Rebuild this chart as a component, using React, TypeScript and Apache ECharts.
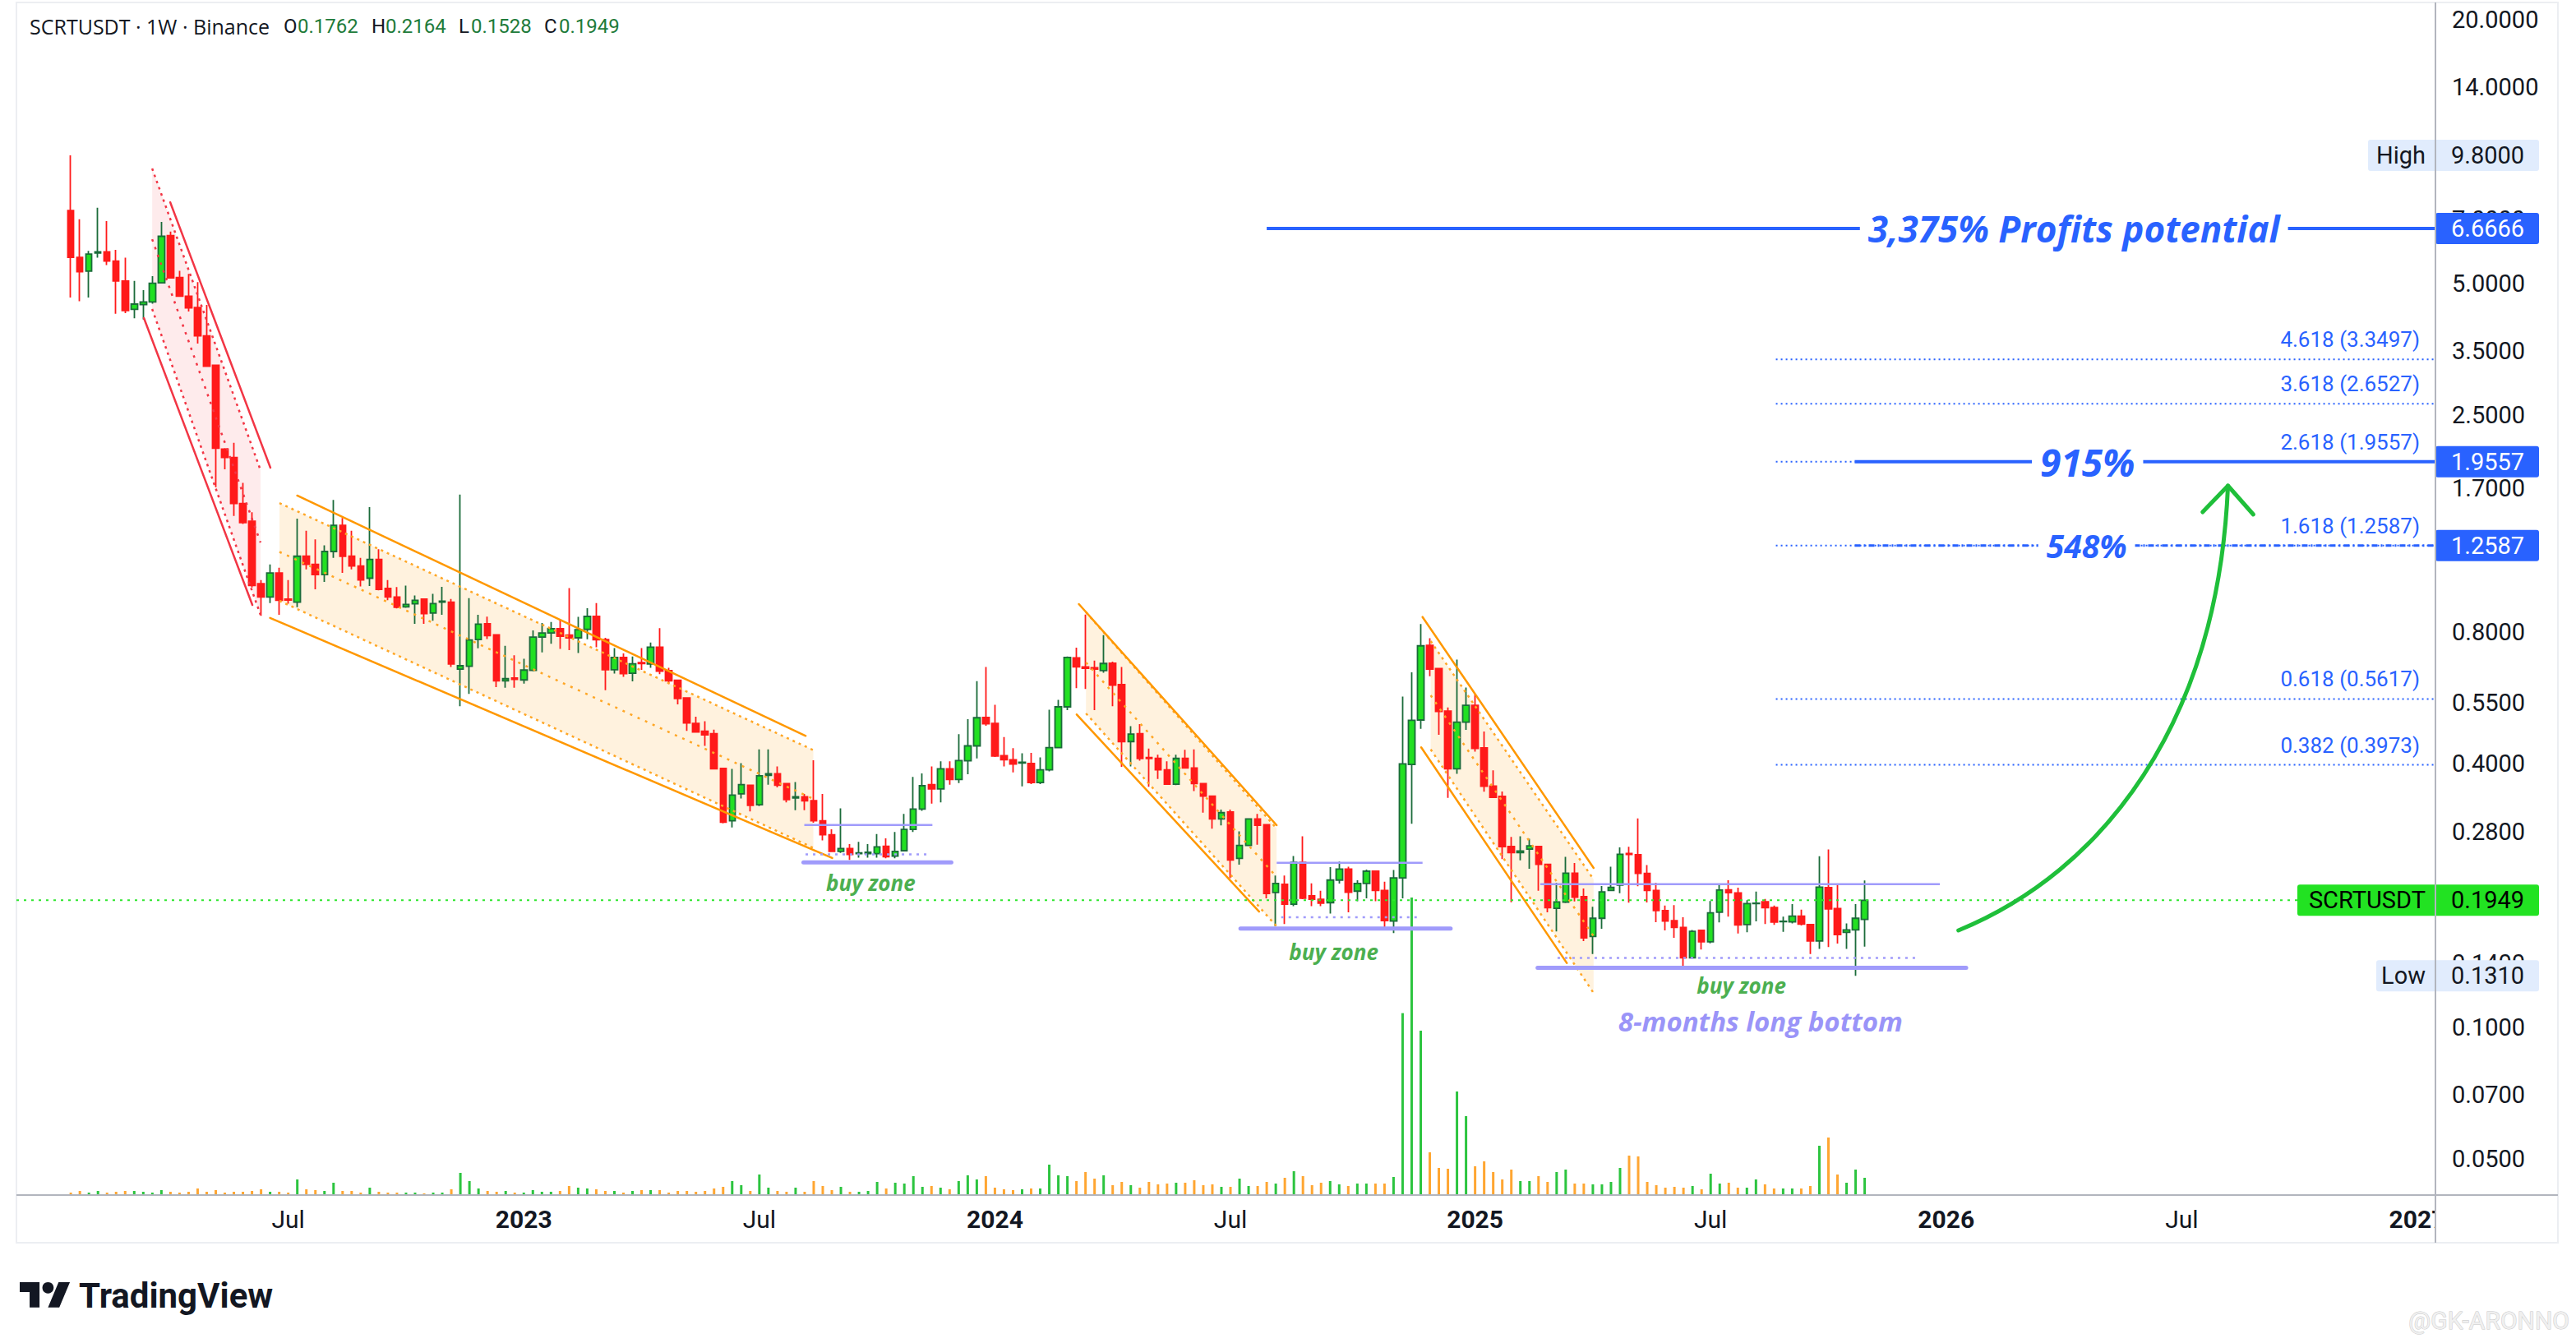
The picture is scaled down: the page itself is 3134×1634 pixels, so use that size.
import React, { useEffect, useRef } from "react";
import * as echarts from "echarts";

// ---------------- data ----------------
const FIRST_WEEK_UTC = Date.UTC(2022, 0, 17); // first weekly bar (Mon)
const AXIS_FIRST = -6; // week index at the left edge of the plot
const AXIS_LAST = 261; // week index at the price scale

// weekly bars SCRTUSDT (Binance): [open, high, low, close]
const candles: number[][] = [
  [7.33, 9.8, 4.64, 5.73], [5.73, 7.0, 4.55, 5.31], [5.33, 5.93, 4.64, 5.83], [5.86, 7.44, 5.72, 5.9],
  [5.9, 6.93, 5.5, 5.62], [5.62, 5.96, 4.26, 5.06], [5.06, 5.72, 4.27, 4.33], [4.36, 5.06, 4.16, 4.48],
  [4.47, 4.82, 4.13, 4.53], [4.53, 5.19, 4.49, 5.0], [5.01, 6.9, 5.0, 6.4], [6.42, 6.56, 5.12, 5.14],
  [5.15, 5.34, 4.66, 4.67], [4.67, 5.25, 4.31, 4.39], [4.4, 5.03, 3.64, 3.79], [3.79, 4.46, 3.22, 3.23],
  [3.25, 3.26, 1.71, 2.1], [2.09, 2.1, 1.88, 2.0], [2.0, 2.16, 1.47, 1.57], [1.57, 1.75, 1.41, 1.42],
  [1.43, 1.5, 1.01, 1.02], [1.03, 1.05, 0.87, 0.96], [0.96, 1.14, 0.93, 1.09], [1.09, 1.12, 0.875, 0.944],
  [0.95, 1.05, 0.927, 0.945], [0.935, 1.45, 0.91, 1.19], [1.19, 1.36, 1.11, 1.14], [1.14, 1.3, 1.0, 1.08],
  [1.08, 1.26, 1.04, 1.22], [1.22, 1.6, 1.18, 1.4], [1.4, 1.455, 1.09, 1.19], [1.19, 1.36, 1.11, 1.13],
  [1.13, 1.18, 1.015, 1.05], [1.06, 1.54, 1.017, 1.17], [1.17, 1.235, 0.995, 1.0], [1.005, 1.05, 0.944, 0.96],
  [0.96, 1.012, 0.904, 0.91], [0.912, 1.02, 0.907, 0.924], [0.927, 0.968, 0.834, 0.944], [0.95, 0.95, 0.834, 0.88],
  [0.883, 0.977, 0.848, 0.928], [0.935, 1.013, 0.875, 0.94], [0.935, 0.95, 0.665, 0.675], [0.657, 1.645, 0.541, 0.669],
  [0.667, 0.955, 0.577, 0.766], [0.768, 0.875, 0.733, 0.833], [0.834, 0.866, 0.77, 0.784], [0.787, 0.787, 0.598, 0.618],
  [0.618, 0.743, 0.596, 0.625], [0.627, 0.707, 0.596, 0.623], [0.621, 0.694, 0.609, 0.654], [0.653, 0.806, 0.65, 0.778],
  [0.778, 0.838, 0.718, 0.795], [0.795, 0.842, 0.751, 0.813], [0.813, 0.853, 0.731, 0.781], [0.786, 1.006, 0.726, 0.775],
  [0.775, 0.865, 0.715, 0.809], [0.81, 0.905, 0.769, 0.867], [0.867, 0.93, 0.737, 0.767], [0.768, 0.775, 0.588, 0.655],
  [0.655, 0.734, 0.642, 0.699], [0.699, 0.714, 0.631, 0.642], [0.643, 0.702, 0.616, 0.676], [0.68, 0.734, 0.655, 0.677],
  [0.675, 0.756, 0.662, 0.738], [0.738, 0.815, 0.64, 0.65], [0.652, 0.662, 0.608, 0.618], [0.62, 0.621, 0.546, 0.563],
  [0.565, 0.565, 0.475, 0.495], [0.494, 0.512, 0.471, 0.472], [0.474, 0.5, 0.439, 0.465], [0.468, 0.478, 0.388, 0.389],
  [0.39, 0.39, 0.292, 0.294], [0.296, 0.389, 0.286, 0.339], [0.341, 0.401, 0.333, 0.358], [0.357, 0.358, 0.311, 0.321],
  [0.322, 0.431, 0.32, 0.375], [0.376, 0.431, 0.358, 0.379], [0.379, 0.394, 0.353, 0.357], [0.36, 0.36, 0.326, 0.331],
  [0.334, 0.363, 0.313, 0.336], [0.336, 0.341, 0.313, 0.329], [0.329, 0.407, 0.293, 0.296], [0.296, 0.341, 0.267, 0.275],
  [0.275, 0.283, 0.251, 0.252], [0.252, 0.316, 0.25, 0.256], [0.256, 0.262, 0.241, 0.248], [0.249, 0.265, 0.244, 0.25],
  [0.249, 0.262, 0.244, 0.251], [0.249, 0.276, 0.244, 0.258], [0.259, 0.27, 0.243, 0.245], [0.246, 0.279, 0.243, 0.252],
  [0.253, 0.307, 0.252, 0.283], [0.283, 0.373, 0.279, 0.315], [0.315, 0.38, 0.312, 0.356], [0.358, 0.394, 0.324, 0.35],
  [0.35, 0.405, 0.326, 0.389], [0.389, 0.405, 0.358, 0.368], [0.368, 0.467, 0.361, 0.4065], [0.406, 0.505, 0.378, 0.439],
  [0.439, 0.617, 0.411, 0.509], [0.51, 0.665, 0.488, 0.493], [0.494, 0.545, 0.414, 0.416], [0.417, 0.46, 0.394, 0.408],
  [0.408, 0.434, 0.382, 0.399], [0.401, 0.422, 0.355, 0.403], [0.4, 0.423, 0.359, 0.362], [0.362, 0.413, 0.359, 0.387],
  [0.387, 0.531, 0.384, 0.435], [0.435, 0.559, 0.434, 0.539], [0.539, 0.702, 0.53, 0.699], [0.697, 0.736, 0.595, 0.665],
  [0.665, 0.876, 0.592, 0.66], [0.662, 0.687, 0.53, 0.657], [0.652, 0.786, 0.645, 0.677], [0.678, 0.684, 0.541, 0.604],
  [0.606, 0.665, 0.393, 0.449], [0.449, 0.487, 0.394, 0.467], [0.468, 0.492, 0.406, 0.411], [0.413, 0.433, 0.354, 0.411],
  [0.411, 0.419, 0.369, 0.387], [0.387, 0.405, 0.358, 0.359], [0.359, 0.419, 0.357, 0.411], [0.411, 0.43, 0.39, 0.391],
  [0.391, 0.431, 0.346, 0.36], [0.36, 0.36, 0.309, 0.337], [0.337, 0.338, 0.284, 0.299], [0.299, 0.314, 0.289, 0.309],
  [0.31, 0.314, 0.219, 0.241], [0.243, 0.28, 0.235, 0.26], [0.26, 0.3, 0.259, 0.299], [0.299, 0.307, 0.261, 0.289],
  [0.29, 0.29, 0.197, 0.202], [0.203, 0.222, 0.17, 0.213], [0.212, 0.222, 0.172, 0.191], [0.191, 0.246, 0.189, 0.238],
  [0.238, 0.273, 0.196, 0.197], [0.1995, 0.213, 0.189, 0.196], [0.196, 0.205, 0.189, 0.192], [0.1925, 0.232, 0.1817, 0.2168],
  [0.2168, 0.239, 0.2129, 0.2297], [0.2297, 0.2325, 0.183, 0.2034], [0.2045, 0.2165, 0.194, 0.2129], [0.2129, 0.229, 0.197, 0.2271],
  [0.2271, 0.2271, 0.194, 0.2052], [0.2052, 0.215, 0.169, 0.1752], [0.1747, 0.2285, 0.164, 0.2192], [0.2193, 0.569, 0.197, 0.3995],
  [0.398, 0.646, 0.2915, 0.502], [0.503, 0.833, 0.48, 0.743], [0.745, 0.773, 0.633, 0.657], [0.659, 0.659, 0.4655, 0.526],
  [0.527, 0.537, 0.334, 0.389], [0.389, 0.691, 0.379, 0.4975], [0.4975, 0.5965, 0.4775, 0.5435], [0.5435, 0.575, 0.426, 0.433],
  [0.4343, 0.4735, 0.345, 0.355], [0.3555, 0.386, 0.334, 0.335], [0.3365, 0.3455, 0.242, 0.2585], [0.2586, 0.272, 0.193, 0.2505],
  [0.2505, 0.273, 0.2405, 0.2525], [0.255, 0.2695, 0.23, 0.2596], [0.2586, 0.2595, 0.205, 0.2355], [0.2355, 0.2355, 0.183, 0.1875],
  [0.1868, 0.2138, 0.1655, 0.1932], [0.193, 0.245, 0.192, 0.2248], [0.2248, 0.2371, 0.1937, 0.198], [0.1986, 0.2075, 0.1573, 0.16],
  [0.1612, 0.1884, 0.147, 0.1773], [0.1773, 0.21, 0.1678, 0.2038], [0.2052, 0.2325, 0.2045, 0.2085], [0.2112, 0.2575, 0.2023, 0.2483],
  [0.2494, 0.2582, 0.1925, 0.248], [0.2476, 0.2997, 0.2098, 0.2245], [0.2245, 0.2347, 0.1928, 0.2052], [0.2052, 0.2138, 0.1738, 0.1846],
  [0.1846, 0.1897, 0.1664, 0.1747], [0.1752, 0.19, 0.16, 0.169], [0.169, 0.1782, 0.138, 0.144], [0.1441, 0.1667, 0.1435, 0.1655],
  [0.1664, 0.1667, 0.1505, 0.1567], [0.1567, 0.1942, 0.1555, 0.1825], [0.183, 0.2122, 0.1735, 0.2057], [0.206, 0.2165, 0.1788, 0.2028],
  [0.2026, 0.2083, 0.1637, 0.1712], [0.1715, 0.1949, 0.1647, 0.1915], [0.1915, 0.204, 0.1744, 0.192], [0.1935, 0.1963, 0.172, 0.1875],
  [0.1876, 0.1897, 0.1712, 0.1738], [0.1742, 0.1788, 0.1652, 0.1745], [0.174, 0.1911, 0.1725, 0.1793], [0.1793, 0.1856, 0.1708, 0.172],
  [0.1715, 0.1717, 0.147, 0.1573], [0.1573, 0.2457, 0.1509, 0.2088], [0.2083, 0.2547, 0.1525, 0.1862], [0.1866, 0.2117, 0.1552, 0.1627],
  [0.1647, 0.1725, 0.1509, 0.1668], [0.1668, 0.1911, 0.131, 0.1773], [0.1762, 0.2164, 0.1528, 0.1949],
];

// weekly volume (relative units)
const volumes: number[] = [
  9, 15, 9, 15, 9, 12, 15, 15, 12, 9, 18, 12, 9, 12, 24, 12, 18, 9, 12, 12,
  15, 21, 12, 12, 9, 57, 21, 18, 15, 45, 15, 15, 9, 27, 12, 9, 9, 9, 9, 6,
  9, 9, 21, 81, 51, 24, 15, 12, 15, 9, 9, 18, 12, 12, 15, 33, 27, 24, 21, 15,
  15, 9, 15, 18, 18, 18, 9, 15, 15, 12, 15, 24, 30, 51, 36, 15, 75, 27, 15, 12,
  27, 12, 51, 33, 18, 30, 12, 12, 15, 48, 24, 45, 42, 69, 30, 33, 27, 21, 51, 72,
  57, 69, 27, 21, 18, 21, 24, 24, 111, 72, 69, 51, 84, 60, 72, 36, 48, 36, 27, 48,
  39, 42, 45, 45, 54, 36, 39, 30, 30, 60, 33, 33, 48, 42, 63, 87, 69, 36, 45, 51,
  39, 33, 42, 42, 42, 42, 66, 664, 1086, 600, 156, 99, 96, 378, 288, 105, 123, 84, 57, 93,
  51, 51, 69, 48, 84, 93, 42, 42, 39, 39, 48, 99, 144, 141, 48, 36, 27, 30, 27, 33,
  21, 78, 42, 45, 27, 27, 57, 39, 24, 24, 24, 24, 33, 180, 210, 75, 45, 93, 63,
];

// price scale (logarithmic)
const priceTicks = [20, 14, 7, 5, 3.5, 2.5, 1.7, 0.8, 0.55, 0.4, 0.28, 0.14, 0.1, 0.07, 0.05];
const PRICE_TOP = 21.79;
const PRICE_BOTTOM = 0.04137;
const VOLUME_MAX = 4350;

// drawings, anchored at [week index, price]
const channels = [
  { tone: "red", top: [[8.98, 9.14], [20.94, 1.871]], bottom: [[8.98, 4.365], [20.94, 0.8746]], mid: [[8.98, 6.3], [20.94, 1.279]], upper: [[10.97, 7.655], [22.03, 1.896]], lower: [[8.07, 4.163], [20.04, 0.921]] },
  { tone: "orange", top: [[23.03, 1.574], [81.96, 0.4293]], bottom: [[23.03, 0.9413], [81.96, 0.2567]], mid: [[23.03, 1.2173], [81.96, 0.3322]], upper: [[24.99, 1.637], [81.11, 0.4628]], lower: [[22.0, 0.8604], [84.04, 0.2434]] },
  { tone: "orange", top: [[112.05, 0.886], [133.09, 0.2843]], bottom: [[112.05, 0.5207], [133.09, 0.17]], mid: [[112.05, 0.6807], [133.09, 0.2204]], upper: [[111.27, 0.9251], [133.09, 0.2893]], lower: [[111.03, 0.5178], [131.16, 0.1836]] },
  { tone: "orange", top: [[150.1, 0.7616], [168.08, 0.2175]], bottom: [[150.1, 0.4311], [168.08, 0.1197]], mid: [[150.1, 0.5727], [168.08, 0.1614]], upper: [[149.2, 0.8645], [168.08, 0.2311]], lower: [[149.05, 0.4356], [165.12, 0.1402]] },
];

// buy zones: [fromWeek, toWeek, price]
const buyZones = [
  { upper: [80.96, 95.1, 0.2897], lower: [80.87, 97.19, 0.2379], dotted: [81.1, 94.8, 0.2482], label: [88.3, 0.2137] },
  { upper: [133.1, 149.2, 0.2375], lower: [129.1, 152.3, 0.168], dotted: [133.6, 148.8, 0.1783], label: [139.4, 0.1487] },
  { upper: [162.2, 206.3, 0.2122], lower: [161.9, 209.2, 0.1366], dotted: [164.1, 204.1, 0.1439], label: [184.4, 0.1245] },
];
const bottomNote = { text: "8-months long bottom", at: [186.5, 0.103] };

const FIB_START = 188.2;
const fibLevels = [
  { ratio: "4.618", price: 3.3497 },
  { ratio: "3.618", price: 2.6527 },
  { ratio: "2.618", price: 1.9557 },
  { ratio: "1.618", price: 1.2587 },
  { ratio: "0.618", price: 0.5617 },
  { ratio: "0.382", price: 0.3973 },
];

const targets = [
  { price: 6.6666, start: 132.0, text: "3,375% Profits potential", at: 221.1, size: 44, dash: null as number[] | null },
  { price: 1.9557, start: 196.9, text: "915%", at: 222.6, size: 46, dash: null as number[] | null },
  { price: 1.2587, start: 196.9, text: "548%", at: 222.5, size: 39, dash: [7, 4, 2, 4] },
];

// green arrow: bezier [start, cp1, cp2, tip] and head arms
const arrowCurve = [[208.35, 0.1664], [224.3, 0.2271], [237.0, 0.494], [238.1, 1.724]];
const arrowArms = [[235.3, 1.501], [240.9, 1.482]];

// ---------------- styling ----------------
const TV_BLUE = "#2962ff";
const UP_FILL = "#22e022";
const UP_LINE = "#1b6b3a";
const DOWN = "#ff1a1a";
const VOL_UP = "#2cc43f";
const VOL_DOWN = "#ffa632";
const ZONE = "#a09bfb";
const TEXT = "#131722";
const FONT = "Roboto, 'Noto Sans', sans-serif";
const TITLE_FONT = "'Open Sans', 'Noto Sans', sans-serif";
const DRAW_FONT = "'Open Sans', 'Noto Sans', sans-serif";

const TVLogoShape = echarts.graphic.extendPath("M14 22H7V11H0V4h14v18zM28 22h-8l7.5-18h8L28 22z", {});
echarts.graphic.registerShape("tvlogo", TVLogoShape);

const lg = (p: number) => Math.log10(p);

function buildOption() {
  const cats: string[] = [];
  for (let k = AXIS_FIRST; k <= AXIS_LAST; k++) {
    cats.push(new Date(FIRST_WEEK_UTC + k * 7 * 86400000).toISOString().slice(0, 10));
  }
  // time-axis labels: first weekly bar of January (year) and of July, from the first bar on
  const labelIdx = new Set<number>();
  cats.forEach((v, k) => {
    const m = v.slice(5, 7);
    if (k + AXIS_FIRST >= 0 && +v.slice(8, 10) <= 7 && (m === "01" || m === "07")) labelIdx.add(k);
  });

  const candleData = cats.map((_, k) => {
    const c = candles[k + AXIS_FIRST];
    return c ? [lg(c[0]), lg(c[3]), lg(c[2]), lg(c[1])] : ["-", "-", "-", "-"];
  });
  const volumeData = cats.map((_, k) => {
    const i = k + AXIS_FIRST;
    if (i < 0 || i >= volumes.length) return "-";
    const up = candles[i][3] >= candles[i][0];
    return { value: volumes[i], itemStyle: { color: up ? VOL_UP : VOL_DOWN } };
  });

  const last = candles[candles.length - 1];
  const highAll = Math.max(...candles.map((c) => c[1]));
  const lowAll = Math.min(...candles.map((c) => c[2]));

  const txt = (x: number, y: number, text: string, o: any) => ({
    type: "text",
    x,
    y,
    style: {
      text,
      fill: o.fill,
      fontSize: o.size,
      fontFamily: o.family || FONT,
      fontWeight: o.weight || "normal",
      fontStyle: o.italic ? "italic" : "normal",
      align: o.align || "center",
      textAlign: o.align || "center",
      verticalAlign: "middle",
      textVerticalAlign: "middle",
      backgroundColor: o.bg,
      padding: o.pad,
    },
  });

  const renderBack = (params: any, api: any) => {
    if (params.dataIndex !== 0) return null;
    const pt = (a: number[]) => api.coord([a[0], lg(a[1])]);
    const kids: any[] = [];
    channels.forEach((ch) => {
      kids.push({
        type: "polygon",
        shape: { points: [pt(ch.top[0]), pt(ch.top[1]), pt(ch.bottom[1]), pt(ch.bottom[0])] },
        style: { fill: ch.tone === "red" ? "rgba(242,54,69,0.10)" : "rgba(255,152,0,0.13)" },
      });
    });
    return { type: "group", children: kids };
  };

  const renderFront = (params: any, api: any) => {
    if (params.dataIndex !== 0) return null;
    const pt = (a: number[]) => api.coord([a[0], lg(a[1])]);
    const rightX = api.coord([AXIS_LAST, 0])[0];
    const leftX = api.coord([AXIS_FIRST, 0])[0];
    const kids: any[] = [];
    const seg = (a: number[], b: number[], stroke: string, lw: number, dash?: number[] | null, cap = "butt") =>
      kids.push({
        type: "line",
        shape: { x1: a[0], y1: a[1], x2: b[0], y2: b[1] },
        style: { stroke, lineWidth: lw, lineDash: dash || null, lineCap: cap },
      });

    // channels
    channels.forEach((ch) => {
      const solid = ch.tone === "red" ? "#f23645" : "#ff9800";
      const dotted = ch.tone === "red" ? "#f23645" : "#ffa726";
      seg(pt(ch.top[0]), pt(ch.top[1]), dotted, 2.5, [3, 5]);
      seg(pt(ch.mid[0]), pt(ch.mid[1]), dotted, 2.5, [3, 7]);
      seg(pt(ch.bottom[0]), pt(ch.bottom[1]), dotted, 2.5, [3, 5]);
      seg(pt(ch.upper[0]), pt(ch.upper[1]), solid, 2.5, null, "round");
      seg(pt(ch.lower[0]), pt(ch.lower[1]), solid, 2.5, null, "round");
    });

    // current price line
    const lastY = pt([0, last[3]])[1];
    seg([leftX, lastY], [rightX, lastY], "#2ee62e", 2, [3, 6]);

    // buy zones
    buyZones.forEach((z) => {
      seg(pt([z.upper[0], z.upper[2]]), pt([z.upper[1], z.upper[2]]), ZONE, 2.5);
      seg(pt([z.dotted[0], z.dotted[2]]), pt([z.dotted[1], z.dotted[2]]), ZONE, 2.5, [3, 6]);
      seg(pt([z.lower[0], z.lower[2]]), pt([z.lower[1], z.lower[2]]), ZONE, 5, null, "round");
      const lp = pt(z.label);
      kids.push(txt(lp[0], lp[1], "buy zone", { fill: "#4caf50", size: 26, weight: "bold", italic: true, family: DRAW_FONT }));
    });
    const bn = pt(bottomNote.at);
    kids.push(txt(bn[0], bn[1], bottomNote.text, { fill: "#9a94f8", size: 33, weight: "bold", italic: true, family: DRAW_FONT }));

    // fib levels
    fibLevels.forEach((f) => {
      const y = pt([0, f.price])[1];
      seg([pt([FIB_START, f.price])[0], y], [rightX, y], TV_BLUE, 2, [2, 4]);
      kids.push(txt(rightX - 19, y - 24, `${f.ratio} (${f.price.toFixed(4)})`, { fill: TV_BLUE, size: 26, align: "right" }));
    });

    // target lines
    targets.forEach((t) => {
      const y = pt([0, t.price])[1];
      seg([pt([t.start, t.price])[0], y], [rightX, y], TV_BLUE, t.dash ? 3 : 4, t.dash);
      const tp = pt([t.at, t.price]);
      kids.push(txt(tp[0], tp[1], t.text, { fill: TV_BLUE, size: t.size, weight: "bold", italic: true, family: DRAW_FONT, bg: "#ffffff", pad: [0, 10] }));
    });

    // arrow
    const a0 = pt(arrowCurve[0]), a1 = pt(arrowCurve[1]), a2 = pt(arrowCurve[2]), a3 = pt(arrowCurve[3]);
    kids.push({
      type: "bezierCurve",
      shape: { x1: a0[0], y1: a0[1], cpx1: a1[0], cpy1: a1[1], cpx2: a2[0], cpy2: a2[1], x2: a3[0], y2: a3[1] },
      style: { stroke: "#1fbf3a", lineWidth: 5, fill: null, lineCap: "round" },
    });
    kids.push({
      type: "polyline",
      shape: { points: [pt(arrowArms[0]), a3, pt(arrowArms[1])] },
      style: { stroke: "#1fbf3a", lineWidth: 5, fill: null, lineCap: "round", lineJoin: "round" },
    });

    // price-scale badges
    const badge = (price: number, bg: string, fg: string, leftLabel?: string, leftX?: number) => {
      const y = pt([0, price])[1];
      const x0 = leftX != null ? leftX : rightX;
      kids.push({ type: "rect", shape: { x: x0, y: y - 19, width: rightX + 126 - x0, height: 38, r: 3 }, style: { fill: bg } });
      kids.push(txt(rightX + 19, y, price.toFixed(4), { fill: fg, size: 29, align: "left" }));
      if (leftLabel) kids.push(txt(rightX - 12, y, leftLabel, { fill: fg, size: 29, align: "right" }));
    };
    badge(highAll, "#e1ecfd", TEXT, "High", rightX - 82);
    targets.forEach((t) => badge(t.price, TV_BLUE, "#ffffff"));
    badge(last[3], "#22e222", "#000000", "SCRTUSDT", rightX - 168);
    badge(lowAll, "#e1ecfd", TEXT, "Low", rightX - 72);

    return { type: "group", children: kids };
  };

  const title = [
    { x: 36, text: "SCRTUSDT · 1W · Binance", fill: TEXT, font: TITLE_FONT, size: 25 },
    { x: 345, text: "O", fill: TEXT, font: FONT, size: 24 },
    { x: 362, text: last[0].toFixed(4), fill: "#1e7b3a", font: FONT, size: 24 },
    { x: 452, text: "H", fill: TEXT, font: FONT, size: 24 },
    { x: 469, text: last[1].toFixed(4), fill: "#1e7b3a", font: FONT, size: 24 },
    { x: 558, text: "L", fill: TEXT, font: FONT, size: 24 },
    { x: 573, text: last[2].toFixed(4), fill: "#1e7b3a", font: FONT, size: 24 },
    { x: 662, text: "C", fill: TEXT, font: FONT, size: 24 },
    { x: 680, text: last[3].toFixed(4), fill: "#1e7b3a", font: FONT, size: 24 },
  ];

  return {
    animation: false,
    backgroundColor: "#ffffff",
    grid: { left: 20, right: 171, top: 4, bottom: 180, containLabel: false, outerBoundsMode: "none" },
    xAxis: [
      {
        type: "category",
        data: cats,
        boundaryGap: false,
        axisLine: { show: false },
        axisTick: { show: false },
        splitLine: { show: false },
        axisLabel: {
          interval: (k: number) => labelIdx.has(k),
          margin: 14,
          formatter: (v: string, k: number) =>
            labelIdx.has(k) ? (v.slice(5, 7) === "01" ? `{y|${v.slice(0, 4)}}` : "{m|Jul}") : "",
          rich: {
            y: { fontSize: 30, fontWeight: "bold", color: TEXT, fontFamily: FONT },
            m: { fontSize: 30, color: TEXT, fontFamily: FONT },
          },
        },
      },
      { type: "value", min: AXIS_FIRST, max: AXIS_LAST, show: false },
    ],
    yAxis: [
      {
        type: "value",
        position: "right",
        min: lg(PRICE_BOTTOM),
        max: lg(PRICE_TOP),
        axisLine: { show: false },
        axisTick: { show: false },
        splitLine: { show: false },
        axisLabel: {
          customValues: priceTicks.map(lg),
          formatter: (v: number) => Math.pow(10, v).toFixed(4),
          margin: 20,
          fontSize: 29,
          color: TEXT,
          fontFamily: FONT,
        },
      },
      { type: "value", min: 0, max: VOLUME_MAX, show: false },
    ],
    series: [
      {
        type: "custom",
        xAxisIndex: 1,
        yAxisIndex: 0,
        z: 1,
        silent: true,
        clip: false,
        data: [[0, 0]],
        renderItem: renderBack,
      },
      {
        type: "bar",
        xAxisIndex: 0,
        yAxisIndex: 1,
        barWidth: 3,
        z: 2,
        silent: true,
        data: volumeData,
      },
      {
        type: "candlestick",
        xAxisIndex: 0,
        yAxisIndex: 0,
        barWidth: 8,
        z: 3,
        silent: true,
        data: candleData,
        itemStyle: { color: UP_FILL, color0: DOWN, borderColor: UP_LINE, borderColor0: DOWN, borderWidth: 1.8 },
      },
      {
        type: "custom",
        xAxisIndex: 1,
        yAxisIndex: 0,
        z: 10,
        silent: true,
        clip: false,
        data: [[0, 0]],
        renderItem: renderFront,
      },
    ],
    graphic: {
      elements: [
        { type: "rect", z: 0, silent: true, shape: { x: 20, y: 3, width: 3092, height: 1509 }, style: { fill: null, stroke: "#eceef2", lineWidth: 2 } },
        { type: "rect", z: 60, silent: true, shape: { x: 2964, y: 1456, width: 147, height: 54 }, style: { fill: "#ffffff" } },
        { type: "line", z: 70, silent: true, shape: { x1: 20, y1: 1454, x2: 3112, y2: 1454 }, style: { stroke: "#b2b5be", lineWidth: 2 } },
        { type: "line", z: 70, silent: true, shape: { x1: 2963, y1: 3, x2: 2963, y2: 1512 }, style: { stroke: "#b2b5be", lineWidth: 2 } },
        ...title.map((t) => ({
          type: "text",
          z: 70,
          silent: true,
          x: t.x,
          y: 32,
          style: { text: t.text, fill: t.fill, fontSize: t.size, fontFamily: t.font, textAlign: "left", align: "left", textVerticalAlign: "middle", verticalAlign: "middle" },
        })),
        { type: "tvlogo", z: 70, silent: true, x: 24, y: 1553, scaleX: 1.72, scaleY: 1.72, style: { fill: TEXT } },
        { type: "circle", z: 70, silent: true, shape: { cx: 24 + 20 * 1.72, cy: 1553 + 8 * 1.72, r: 4 * 1.72 }, style: { fill: TEXT } },
        {
          type: "text",
          z: 70,
          silent: true,
          x: 96,
          y: 1576,
          style: { text: "TradingView", fill: TEXT, fontSize: 42, fontWeight: "bold", fontFamily: FONT, textAlign: "left", align: "left", textVerticalAlign: "middle", verticalAlign: "middle" },
        },
        {
          type: "text",
          z: 70,
          silent: true,
          x: 3126,
          y: 1606,
          style: { text: "@GK-ARONNO", fill: "#f0f0f0", stroke: "#c8c8c8", lineWidth: 1, fontSize: 30, fontFamily: FONT, textAlign: "right", align: "right", textVerticalAlign: "middle", verticalAlign: "middle" },
        },
      ],
    },
  };
}

export default function App() {
  const ref = useRef<HTMLDivElement>(null);
  useEffect(() => {
    document.body.style.margin = "0";
    const chart = echarts.init(ref.current as HTMLDivElement, null, { renderer: "svg" });
    chart.setOption(buildOption() as any);
    return () => chart.dispose();
  }, []);
  return <div ref={ref} style={{ width: 3134, height: 1634, background: "#ffffff" }} />;
}
